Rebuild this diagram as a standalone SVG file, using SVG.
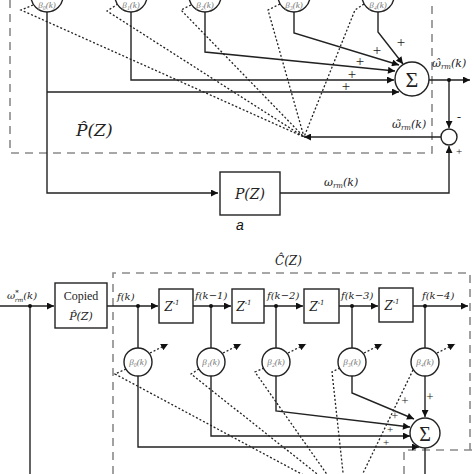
<svg xmlns="http://www.w3.org/2000/svg" width="474" height="474" viewBox="0 0 474 474">
<defs>
<marker id="ar" viewBox="0 0 10 10" refX="10" refY="5" markerWidth="8" markerHeight="7" markerUnits="userSpaceOnUse" orient="auto"><path d="M0,0 L10,5 L0,10 z" fill="#111"/></marker>
<marker id="ars" viewBox="0 0 10 10" refX="10" refY="5" markerWidth="7" markerHeight="7" markerUnits="userSpaceOnUse" orient="auto"><path d="M0,0 L10,5 L0,10 z" fill="#111"/></marker>
</defs>
<style>
.ln{fill:none;stroke:#222;stroke-width:1.4}
.dt{fill:none;stroke:#222;stroke-width:1.3;stroke-dasharray:2 2}
.ds{fill:none;stroke:#8a8a8a;stroke-width:1.6;stroke-dasharray:8 6}
.nd{fill:#fff;stroke:#222;stroke-width:1.4}
.bx{fill:#fff;stroke:#222;stroke-width:1.4}
.m{font-family:"DejaVu Serif","Liberation Serif",serif;font-style:italic;fill:#222}
.r{font-family:"Liberation Serif","DejaVu Serif",serif;fill:#222}
.b{font-family:"Liberation Serif","DejaVu Serif",serif;font-style:italic;fill:#777;font-size:9px}
.p{font-family:"Liberation Sans","DejaVu Sans",sans-serif;fill:#111;font-size:14px}
.dot{fill:#111}
</style>
<rect width="474" height="474" fill="#fff"/>

<g id="boundaries">
<path class="ds" d="M10,0 V153 H432 V0"/>
<path class="ds" d="M113,474 V273 H470 V450"/>
<path class="ds" d="M404,474 V450 H474"/>
</g>

<g id="connectors">
<path class="ln" d="M47,12 V193 H218" marker-end="url(#ar)"/>
<path class="ln" d="M47,92 H399" marker-end="url(#ar)"/>
<path class="ln" d="M131,12 V80 H394" marker-end="url(#ar)"/>
<path class="ln" d="M205,12 V52 L395,71" marker-end="url(#ar)"/>
<path class="ln" d="M294,12 V33 L399,65" marker-end="url(#ar)"/>
<path class="ln" d="M378,12 V32 L403,64" marker-end="url(#ar)"/>
<path class="ln" d="M429,80 H470" marker-end="url(#ar)"/>
<path class="ln" d="M449,80 V128" marker-end="url(#ar)"/>
<path class="ln" d="M280,193 H449 V146" marker-end="url(#ar)"/>
<path class="ln" d="M441,137 H304" marker-end="url(#ar)"/>
<path class="dt" d="M33,5 L21,10 L304,137"/>
<path class="dt" d="M118,4 L107,11 L304,137"/>
<path class="dt" d="M191,5 L181,10 L304,137"/>
<path class="dt" d="M280,4 L268,10 L304,137"/>
<path class="dt" d="M364,4 L355,10 L304,137"/>

<path class="ln" d="M0,306 H54" marker-end="url(#ar)"/>
<path class="ln" d="M30,306 V474"/>
<path class="ln" d="M107,306 H158" marker-end="url(#ar)"/>
<path class="ln" d="M193,306 H231" marker-end="url(#ar)"/>
<path class="ln" d="M264,306 H303" marker-end="url(#ar)"/>
<path class="ln" d="M339,306 H378" marker-end="url(#ar)"/>
<path class="ln" d="M413,306 H468" marker-end="url(#ar)"/>
<path class="ln" d="M138,306 V348"/>
<path class="ln" d="M211,306 V348"/>
<path class="ln" d="M276,306 V348"/>
<path class="ln" d="M352,306 V348"/>
<path class="ln" d="M425,306 V348"/>
<path class="ln" d="M138,376 V447 H419" marker-end="url(#ar)"/>
<path class="ln" d="M211,376 V436 H410" marker-end="url(#ar)"/>
<path class="ln" d="M276,376 V411 L410,427" marker-end="url(#ar)"/>
<path class="ln" d="M352,376 V393 L414,419" marker-end="url(#ar)"/>
<path class="ln" d="M425,376 V417" marker-end="url(#ar)"/>
<path class="ln" d="M425,448 V474"/>
<path class="dt" d="M126,369 L115,374 L350,500"/>
<path class="dt" d="M199,369 L191,374 L350,500"/>
<path class="dt" d="M264,368 L255,372 L345,500"/>
<path class="dt" d="M340,368 L332,372 L346,500"/>
<path class="dt" d="M413,370 L350,500"/>
<path class="dt" d="M150,353 L168,344" marker-end="url(#ars)"/>
<path class="dt" d="M223,353 L241,344" marker-end="url(#ars)"/>
<path class="dt" d="M288,353 L306,344" marker-end="url(#ars)"/>
<path class="dt" d="M364,353 L382,344" marker-end="url(#ars)"/>
<path class="dt" d="M437,353 L455,344" marker-end="url(#ars)"/>
<circle class="dot" cx="449" cy="80" r="2"/>
<circle class="dot" cx="30" cy="306" r="2"/>
<circle class="dot" cx="138" cy="306" r="2"/>
<circle class="dot" cx="211" cy="306" r="2"/>
<circle class="dot" cx="276" cy="306" r="2"/>
<circle class="dot" cx="352" cy="306" r="2"/>
<circle class="dot" cx="425" cy="306" r="2"/>
</g>

<g id="w0"><circle class="nd" cx="47" cy="-4" r="16"/><text class="b" x="47" y="8" font-size="7" text-anchor="middle">β₀(k)</text></g>
<g id="w1"><circle class="nd" cx="131" cy="-4" r="16"/><text class="b" x="131" y="8" font-size="7" text-anchor="middle">β₁(k)</text></g>
<g id="w2"><circle class="nd" cx="205" cy="-4" r="16"/><text class="b" x="205" y="8" font-size="7" text-anchor="middle">β₂(k)</text></g>
<g id="w3"><circle class="nd" cx="294" cy="-4" r="16"/><text class="b" x="294" y="8" font-size="7" text-anchor="middle">β₃(k)</text></g>
<g id="w4"><circle class="nd" cx="378" cy="-4" r="16"/><text class="b" x="378" y="8" font-size="7" text-anchor="middle">β₄(k)</text></g>

<g id="sum-top"><circle class="nd" cx="412" cy="79" r="17"/><text class="r" x="412" y="87" font-size="22" text-anchor="middle" fill="#222">Σ</text></g>
<g id="cmp"><circle class="nd" cx="449" cy="137" r="8"/></g>

<g id="pz">
<rect class="bx" x="220" y="172" width="60" height="43"/>
<text class="m" x="250" y="199" font-size="14" text-anchor="middle">P(Z)</text>
</g>

<g id="top-labels">
<text class="m" x="76" y="136" font-size="17">P̂(Z)</text>
<text class="m" x="432" y="67" font-size="11">ω̂<tspan font-size="7" dy="2">rm</tspan><tspan dy="-2">(k)</tspan></text>
<text class="m" x="392" y="128" font-size="11">ω̃<tspan font-size="7" dy="2">rm</tspan><tspan dy="-2">(k)</tspan></text>
<text class="m" x="324" y="186" font-size="11">ω<tspan font-size="7" dy="2">rm</tspan><tspan dy="-2">(k)</tspan></text>
<text class="r" x="346" y="91" font-size="15" text-anchor="middle" fill="#222">+</text>
<text class="r" x="352" y="79" font-size="15" text-anchor="middle" fill="#222">+</text>
<text class="r" x="360" y="66" font-size="15" text-anchor="middle" fill="#222">+</text>
<text class="r" x="377" y="55" font-size="15" text-anchor="middle" fill="#222">+</text>
<text class="r" x="401" y="47" font-size="15" text-anchor="middle" fill="#222">+</text>
<text class="r" x="459" y="121" font-size="12" text-anchor="middle" fill="#222">-</text>
<text class="r" x="459" y="155" font-size="11" text-anchor="middle" fill="#222">+</text>
<text class="p" x="240" y="230" font-style="italic" text-anchor="middle">a</text>
</g>

<g id="copied">
<rect class="bx" x="55" y="283" width="52" height="45"/>
<text class="r" x="81" y="300" font-size="12" text-anchor="middle" fill="#222">Copied</text>
<text class="m" x="81" y="320" font-size="11" text-anchor="middle">P̂(Z)</text>
</g>
<g id="z1"><rect class="bx" x="159" y="289" width="34" height="34"/><text class="m" x="172" y="311" font-size="12" text-anchor="middle">Z<tspan font-size="7" dy="-6">-1</tspan></text></g>
<g id="z2"><rect class="bx" x="232" y="289" width="32" height="34"/><text class="m" x="244" y="311" font-size="12" text-anchor="middle">Z<tspan font-size="7" dy="-6">-1</tspan></text></g>
<g id="z3"><rect class="bx" x="304" y="289" width="35" height="34"/><text class="m" x="317" y="311" font-size="12" text-anchor="middle">Z<tspan font-size="7" dy="-6">-1</tspan></text></g>
<g id="z4"><rect class="bx" x="379" y="288" width="34" height="34"/><text class="m" x="392" y="310" font-size="12" text-anchor="middle">Z<tspan font-size="7" dy="-6">-1</tspan></text></g>

<g id="b0"><circle class="nd" cx="138" cy="362" r="14"/><text class="b" x="138" y="365" text-anchor="middle">β₀(k)</text></g>
<g id="b1"><circle class="nd" cx="211" cy="362" r="14"/><text class="b" x="211" y="365" text-anchor="middle">β₁(k)</text></g>
<g id="b2"><circle class="nd" cx="276" cy="362" r="14"/><text class="b" x="276" y="365" text-anchor="middle">β₂(k)</text></g>
<g id="b3"><circle class="nd" cx="352" cy="362" r="14"/><text class="b" x="352" y="365" text-anchor="middle">β₃(k)</text></g>
<g id="b4"><circle class="nd" cx="425" cy="362" r="14"/><text class="b" x="425" y="365" text-anchor="middle">β₄(k)</text></g>

<g id="sum-bottom"><circle class="nd" cx="425" cy="433" r="15"/><text class="r" x="425" y="441" font-size="20" text-anchor="middle" fill="#222">Σ</text></g>

<g id="bottom-labels">
<text class="m" x="7" y="299" font-size="10">ω<tspan font-size="7" dy="-4">*</tspan><tspan font-size="6" dx="-4" dy="7">rm</tspan><tspan dy="-3">(k)</tspan></text>
<text class="m" x="117" y="300" font-size="10">f(k)</text>
<text class="m" x="195" y="299" font-size="10">f(k−1)</text>
<text class="m" x="267" y="299" font-size="10">f(k−2)</text>
<text class="m" x="341" y="299" font-size="10">f(k−3)</text>
<text class="m" x="422" y="299" font-size="10">f(k−4)</text>
<text class="m" x="275" y="265" font-size="12">Ĉ(Z)</text>
<text class="r" x="405" y="405" font-size="13" text-anchor="middle" fill="#222">+</text>
<text class="r" x="430" y="401" font-size="13" text-anchor="middle" fill="#222">+</text>
<text class="r" x="395" y="420" font-size="12" text-anchor="middle" fill="#222">+</text>
<text class="r" x="390" y="433" font-size="11" text-anchor="middle" fill="#222">+</text>
<text class="r" x="386" y="446" font-size="11" text-anchor="middle" fill="#222">+</text>
</g>
</svg>
